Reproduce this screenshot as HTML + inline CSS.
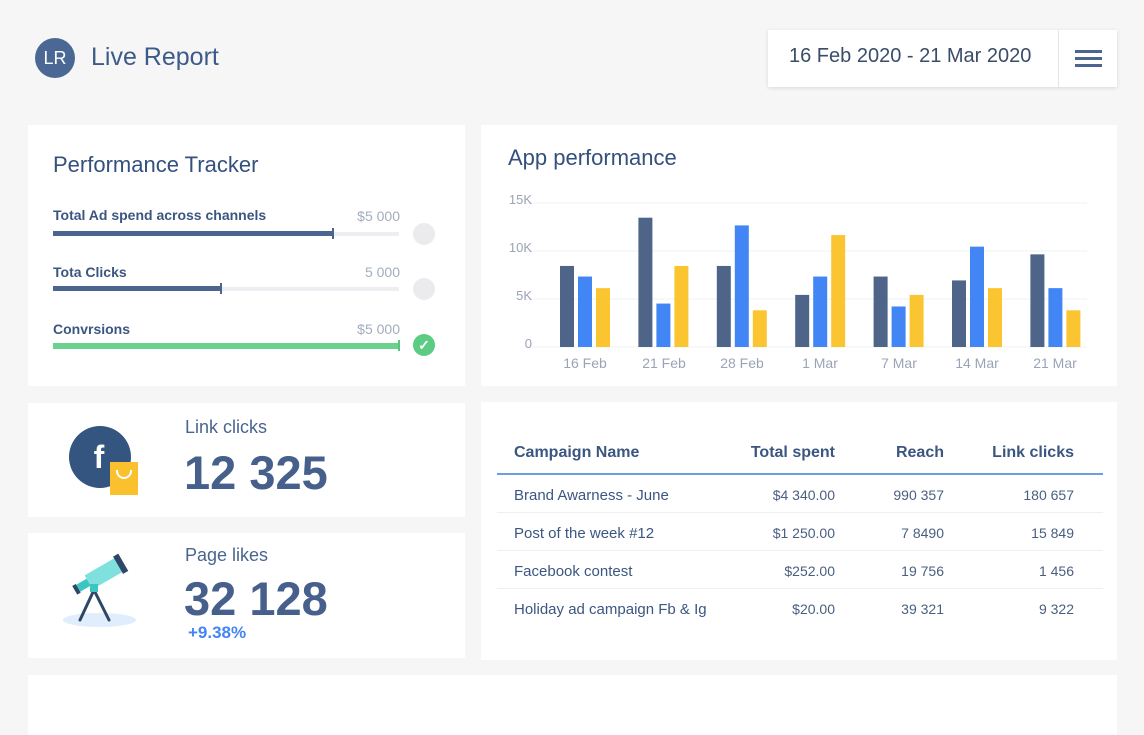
<!DOCTYPE html>
<html><head><meta charset="utf-8"><style>
*{margin:0;padding:0;box-sizing:border-box}
body{width:1144px;height:724px;background:#f6f6f7;font-family:"Liberation Sans",sans-serif;color:#34507c;position:relative;overflow:hidden}
.a{position:absolute}
.card{position:absolute;background:#fff}
.lbl{font-size:14px;font-weight:bold;color:#3b5681}
.val{font-size:14px;color:#a3adbd;text-align:right;width:100px}
.track{position:absolute;height:4px;background:#eeedf1}
.fill{position:absolute;height:5px;background:#4b6490}
.dot{position:absolute;width:22px;height:22px;border-radius:50%;background:#ebebee}
</style></head><body>
<div class="a" style="left:35px;top:38px;width:40px;height:40px;border-radius:50%;background:#4b6894;color:#fff;font-size:18px;line-height:40px;text-align:center">LR</div>
<div class="a" style="left:91px;top:43px;font-size:25px;color:#3d5b88">Live Report</div>
<div class="card" style="left:768px;top:30px;width:349px;height:57px;box-shadow:0 1px 4px rgba(0,0,0,.12)"></div>
<div class="a" style="left:789px;top:45px;font-size:20px;color:#3a4d68">16 Feb 2020 - 21 Mar 2020</div>
<div class="a" style="left:1058px;top:30px;width:1px;height:57px;background:#e3e5ea"></div>
<div class="a" style="left:1075px;top:50px;width:27px;height:3px;background:#4b6490;box-shadow:0 7px 0 #4b6490,0 14px 0 #4b6490"></div>

<div class="card" style="left:28px;top:125px;width:437px;height:261px"></div>
<div class="a" style="left:53px;top:152px;font-size:22px;color:#34507c">Performance Tracker</div>
<div class="a lbl" style="left:53px;top:207px">Total Ad spend across channels</div>
<div class="a val" style="left:300px;top:208px">$5 000</div>
<div class="track" style="left:53px;top:232px;width:346px"></div>
<div class="fill" style="left:53px;top:231px;width:280px"></div>
<div class="a" style="left:332px;top:228px;width:2px;height:11px;background:#4b6490"></div>
<div class="dot" style="left:413px;top:223px"></div>
<div class="a lbl" style="left:53px;top:264px">Tota Clicks</div>
<div class="a val" style="left:300px;top:264px">5 000</div>
<div class="track" style="left:53px;top:287px;width:346px"></div>
<div class="fill" style="left:53px;top:286px;width:168px"></div>
<div class="a" style="left:220px;top:283px;width:2px;height:11px;background:#4b6490"></div>
<div class="dot" style="left:413px;top:278px"></div>
<div class="a lbl" style="left:53px;top:321px">Convrsions</div>
<div class="a val" style="left:300px;top:321px">$5 000</div>
<div class="fill" style="left:53px;top:343px;width:346px;height:6px;background:#6ad28e"></div>
<div class="a" style="left:398px;top:340px;width:2px;height:11px;background:#5cc27f"></div>
<div class="a" style="left:413px;top:334px;width:22px;height:22px;border-radius:50%;background:#5ccb84;color:#fff;font-size:14px;line-height:22px;text-align:center;font-weight:bold">✓</div>

<div class="card" style="left:481px;top:125px;width:636px;height:261px"></div>
<div class="a" style="left:508px;top:145px;font-size:22px;color:#34507c">App performance</div>
<svg class="a" style="left:0;top:0" width="1144" height="400" font-family="Liberation Sans" font-size="13" fill="#9aa4b6">
<g stroke="#eef0f3" stroke-width="1"><line x1="525" y1="203" x2="1087" y2="203"/><line x1="525" y1="251" x2="1087" y2="251"/><line x1="525" y1="299" x2="1087" y2="299"/><line x1="525" y1="347" x2="1087" y2="347"/></g>
<text x="532" y="204" text-anchor="end">15K</text><text x="532" y="252" text-anchor="end">10K</text><text x="532" y="300" text-anchor="end">5K</text><text x="532" y="348" text-anchor="end">0</text>
<g id="bars"></g>
<g font-size="14" text-anchor="middle"><text x="585" y="368">16 Feb</text><text x="664" y="368">21 Feb</text><text x="742" y="368">28 Feb</text><text x="820" y="368">1 Mar</text><text x="899" y="368">7 Mar</text><text x="977" y="368">14 Mar</text><text x="1055" y="368">21 Mar</text></g>
</svg>

<div class="card" style="left:28px;top:403px;width:437px;height:114px"></div>
<div class="a" style="left:69px;top:426px;width:62px;height:62px;border-radius:50%;background:#34557f;color:#fff;font-size:32px;font-weight:bold;line-height:62px;text-align:center;text-indent:-2px">f</div>
<div class="a" style="left:110px;top:462px;width:28px;height:33px;background:#fbc02d"></div>
<div class="a" style="left:116px;top:470px;width:16px;height:9px;border:2px solid #fff;border-top:none;border-radius:0 0 8px 8px"></div>
<div class="a" style="left:185px;top:417px;font-size:18px;color:#4a6590">Link clicks</div>
<div class="a" style="left:184px;top:445px;font-size:47px;font-weight:bold;color:#46608b">12 325</div>

<div class="card" style="left:28px;top:533px;width:437px;height:125px"></div>
<div class="a" style="left:63px;top:613px;width:73px;height:14px;border-radius:50%;background:#e0edfc"></div>
<svg class="a" style="left:60px;top:550px" width="90" height="80"><g stroke="#2e4766" stroke-width="3" stroke-linecap="round"><line x1="34" y1="40" x2="20" y2="70"/><line x1="34" y1="40" x2="49" y2="70"/></g><g transform="rotate(-30 40 28)"><rect x="28" y="18" width="36" height="16" fill="#7fe0de"/><rect x="62" y="16" width="6" height="20" fill="#2e4766"/><rect x="16" y="22" width="12" height="8" fill="#3cc6c1"/><rect x="12" y="21" width="4" height="10" fill="#2e4766"/></g><rect x="30" y="34" width="8" height="8" fill="#3cc6c1"/></svg>
<div class="a" style="left:185px;top:545px;font-size:18px;color:#4a6590">Page likes</div>
<div class="a" style="left:184px;top:571px;font-size:47px;font-weight:bold;color:#46608b">32 128</div>
<div class="a" style="left:188px;top:623px;font-size:17px;font-weight:bold;color:#4285f4">+9.38%</div>

<div class="card" style="left:481px;top:402px;width:636px;height:258px"></div>
<div class="a" style="left:514px;top:444px;font-size:16px;font-weight:bold;color:#3b5681">Campaign Name</div>
<div class="a" style="left:700px;top:444px;width:135px;text-align:right;font-size:16px;font-weight:bold;color:#3b5681">Total spent</div>
<div class="a" style="left:844px;top:444px;width:100px;text-align:right;font-size:16px;font-weight:bold;color:#3b5681">Reach</div>
<div class="a" style="left:974px;top:444px;width:100px;text-align:right;font-size:16px;font-weight:bold;color:#3b5681">Link clicks</div>
<div class="a" style="left:497px;top:473px;width:606px;height:2px;background:#6e9de6"></div>
<div class="a" style="left:497px;top:512px;width:606px;height:1px;background:#edf0f3"></div>
<div class="a" style="left:497px;top:550px;width:606px;height:1px;background:#edf0f3"></div>
<div class="a" style="left:497px;top:588px;width:606px;height:1px;background:#edf0f3"></div>
<div class="a" style="left:514px;top:477px;font-size:15px;line-height:38px;color:#3b5681">Brand Awarness - June<br>Post of the week #12<br>Facebook contest<br>Holiday ad campaign Fb &amp; Ig</div>
<div class="a" style="left:700px;top:476px;width:135px;text-align:right;font-size:14px;line-height:38px;color:#4a5f80">$4 340.00<br>$1 250.00<br>$252.00<br>$20.00</div>
<div class="a" style="left:844px;top:476px;width:100px;text-align:right;font-size:14px;line-height:38px;color:#4a5f80">990 357<br>7 8490<br>19 756<br>39 321</div>
<div class="a" style="left:974px;top:476px;width:100px;text-align:right;font-size:14px;line-height:38px;color:#4a5f80">180 657<br>15 849<br>1 456<br>9 322</div>

<div class="card" style="left:28px;top:675px;width:1089px;height:60px"></div>
<script>
var d=[[8.4,7.3,6.1],[13.4,4.5,8.4],[8.4,12.6,3.8],[5.4,7.3,11.6],[7.3,4.2,5.4],[6.9,10.4,6.1],[9.6,6.1,3.8]];
var c=["#4e6489","#4285f4","#fbc531"],s="";
d.forEach(function(g,i){g.forEach(function(v,j){var h=v*9.65,x=560+i*78.4+j*18;s+='<rect x="'+x+'" y="'+(347-h)+'" width="14" height="'+h+'" fill="'+c[j]+'"/>';});});
document.getElementById("bars").innerHTML=s;
</script>
</body></html>
